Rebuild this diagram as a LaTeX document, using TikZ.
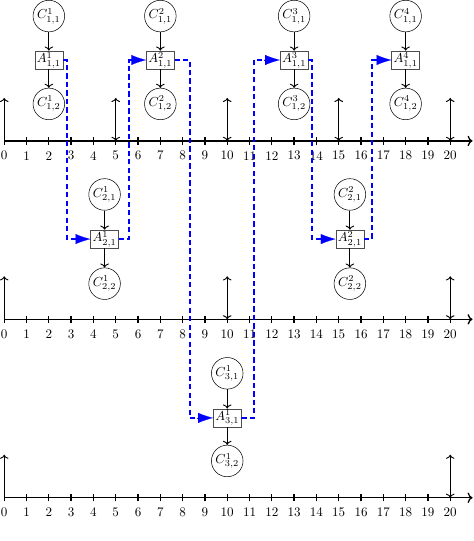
\documentclass[tikz,border=0pt]{standalone}
\usetikzlibrary{arrows.meta}
\begin{document}
\begin{tikzpicture}[x=0.6cm,y=0.6cm,
  cnode/.style={circle,draw,minimum size=0.85cm,inner sep=0pt},
  anode/.style={rectangle,draw=black!70,minimum width=0.75cm,minimum height=0.47cm,inner sep=1pt},
  link/.style={->,line width=0.7pt},
  schedline/.style={draw=blue,line width=1.4pt,dash pattern=on 4pt off 2.5pt},
  schedtip/.style={draw=blue,fill=blue,line width=0.1pt,-{Latex[length=4mm,width=2.7mm]}},
  axisline/.style={line width=1pt,->},
  tickline/.style={line width=1pt},
  uparrow/.style={->,line width=0.7pt},
  bothar/.style={<->,line width=0.7pt}]
\useasboundingbox (-0.19,-17.94) rectangle (21.06,6.32);
% axes
\foreach \r/\y in {1/0,2/-8,3/-16}{
  \draw[axisline] (0,\y) -- (21,\y);
  \foreach \i in {0,...,20}{
    \draw[tickline] (\i,\y-0.16) -- (\i,\y+0.16);
    \node (lab\r-\i) at (\i,\y-0.66) {\i};
  }
  \draw[uparrow] (0,\y) -- (0,\y+1.93);
}
\foreach \x in {5,10,15,20}{\draw[bothar] (\x,0) -- (\x,1.93);}
\foreach \x in {10,20}{\draw[bothar] (\x,-8) -- (\x,-6.07);}
\draw[bothar] (20,-16) -- (20,-14.07);
% row 1
\foreach \k/\x in {1/2,2/7,3/13,4/18}{
  \node[cnode] (C11\k) at (\x,5.6) {$C^{\k}_{1,1}$};
  \node[anode] (A11\k) at (\x,3.63) {$A^{\k}_{1,1}$};
  \node[cnode] (C12\k) at (\x,1.66) {$C^{\k}_{1,2}$};
  \draw[link] (C11\k) -- (A11\k);
  \draw[link] (A11\k) -- (C12\k);
}
% row 2
\foreach \k/\x in {1/4.5,2/15.5}{
  \node[cnode] (C21\k) at (\x,-2.4) {$C^{\k}_{2,1}$};
  \node[anode] (A21\k) at (\x,-4.4) {$A^{\k}_{2,1}$};
  \node[cnode] (C22\k) at (\x,-6.4) {$C^{\k}_{2,2}$};
  \draw[link] (C21\k) -- (A21\k);
  \draw[link] (A21\k) -- (C22\k);
}
% row 3
\node[cnode] (C311) at (10,-10.42) {$C^{1}_{3,1}$};
\node[anode] (A311) at (10,-12.42) {$A^{1}_{3,1}$};
\node[cnode] (C321) at (10,-14.35) {$C^{1}_{3,2}$};
\draw[link] (C311) -- (A311);
\draw[link] (A311) -- (C321);
% schedule path
\coordinate (v1) at (2.8,0);
\coordinate (v2) at (5.6,0);
\coordinate (v3) at (8.33,0);
\coordinate (v4) at (11.2,0);
\coordinate (v5) at (13.8,0);
\coordinate (v6) at (16.5,0);
\draw[schedline] (A111.east) -- (A111.east -| v1) -- (v1 |- A211.west) -- ([xshift=-3mm]A211.west)
  (A211.east) -- (A211.east -| v2) -- (v2 |- A112.west) -- ([xshift=-3mm]A112.west)
  (A112.east) -- (A112.east -| v3) -- (v3 |- A311.west) -- ([xshift=-3mm]A311.west)
  (A311.east) -- (A311.east -| v4) -- (v4 |- A113.west) -- ([xshift=-3mm]A113.west)
  (A113.east) -- (A113.east -| v5) -- (v5 |- A212.west) -- ([xshift=-3mm]A212.west)
  (A212.east) -- (A212.east -| v6) -- (v6 |- A114.west) -- ([xshift=-3mm]A114.west);
\foreach \n in {A211,A112,A311,A113,A212,A114}{
  \draw[schedtip] ([xshift=-4.2mm]\n.west) -- (\n.west);
}
\end{tikzpicture}
\end{document}
